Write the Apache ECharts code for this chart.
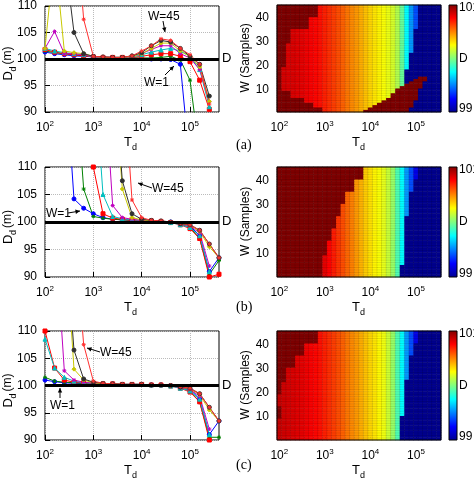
<!DOCTYPE html>
<html><head><meta charset="utf-8">
<script src="https://cdn.jsdelivr.net/npm/echarts@6/dist/echarts.min.js"></script>
<style>html,body{margin:0;padding:0;background:#fff}#c{width:474px;height:482px}</style>
</head><body><div id="c"></div>
<script>
// ---- data ----
const Tpoints = [100,158,251,398,631,1000,1585,2512,3981,6310,10000,15849,25119,39811,63096,100000,158489,251189,398107];
const Wlabels = ['W=1','W=7','W=13','W=19','W=25','W=31','W=38','W=45'];
const aW1 = [101.3,101.0,100.8,100.6,100.5,100.4,100.3,100.3,100.2,100.2,100.1,100.0,100.0,99.9,99.0,80,null,null,null];
const aW7 = [101.5,101.2,101.0,100.8,100.6,100.4,100.3,100.3,100.3,100.2,100.2,100.2,100.3,100.5,99.8,96.0,82,null,null];
const aW13= [101.8,101.3,101.0,100.8,100.6,100.4,100.3,100.3,100.3,100.3,100.5,100.8,101.0,101.0,100.5,99.5,96.0,90.5,null];
const aW19= [102.0,101.5,101.2,101.0,100.8,100.4,100.3,100.3,100.3,100.4,100.8,101.3,101.7,102.0,101.5,100.5,98.0,91.0,null];
const aW25= [102.0,105.2,101.0,101.0,100.8,100.4,100.3,100.3,100.3,100.5,101.0,101.8,102.5,102.5,101.0,100.2,98.0,92.0,null];
const aW31= [102.0,120,101.5,101.2,101.0,100.5,100.3,100.3,100.3,100.5,101.0,102.0,103.0,103.0,101.5,100.5,98.5,92.0,null];
const aW38= [120,120,120,105.0,101.0,100.5,100.4,100.3,100.3,100.6,101.2,102.5,103.5,103.2,102.0,100.5,99.0,93.0,null];
const aW45= [130,130,130,130,107.5,100.5,100.4,100.3,100.3,100.6,101.5,102.5,103.8,103.5,102.0,100.8,99.0,91.5,null];
const bW1 = [130,130,130,104.2,102.5,101.5,100.8,100.5,100.4,100.3,100.2,100.2,100.1,100.0,99.7,99.3,97.5,91.0,93.5];
const bW7 = [130,130,130,130,106.0,101.0,100.7,100.5,100.4,100.3,100.2,100.2,100.1,100.0,99.6,99.0,97.0,90.5,93.0];
const bW13= [130,130,130,130,130,110,101.5,100.7,100.5,100.3,100.3,100.2,100.1,99.9,99.5,98.8,97.0,90.0,90.5];
const bW19= [130,130,130,130,130,130,105.0,101.0,100.6,100.4,100.3,100.2,100.1,99.9,99.5,99.0,97.5,91.0,null];
const bW25= [130,130,130,130,130,130,130,103.0,100.8,100.5,100.3,100.2,100.1,100.0,99.6,99.3,98.0,92.0,null];
const bW31= [130,130,130,130,130,130,130,130,106.0,100.8,100.4,100.2,100.1,100.0,99.7,99.4,98.3,95.5,93.5];
const bW38= [130,130,130,130,130,130,130,130,107.5,101.5,100.5,100.3,100.2,100.0,99.7,99.5,98.5,96.0,93.5];
const bW45= [130,130,130,130,130,130,130,130,130,104.0,100.8,100.3,100.2,100.0,99.8,99.5,98.5,96.0,93.5];
const cW1 = [101.0,100.7,100.5,100.4,100.4,100.3,100.3,100.3,100.2,100.2,100.2,100.1,100.1,100.0,99.6,99.3,97.5,91.0,93.5];
const cW7 = [101.5,100.8,100.6,100.5,100.4,100.3,100.3,100.3,100.2,100.2,100.2,100.1,100.1,100.0,99.6,99.0,97.0,90.5,90.5];
const cW13= [110,103.2,101.0,100.6,100.5,100.4,100.3,100.3,100.2,100.2,100.2,100.1,100.1,99.9,99.5,98.8,97.0,90.0,null];
const cW19= [108.5,103.2,101.5,100.8,100.5,100.4,100.3,100.3,100.2,100.2,100.2,100.1,100.1,99.9,99.5,99.0,97.5,91.0,null];
const cW25= [130,130,102.7,101.0,100.6,100.4,100.3,100.3,100.2,100.2,100.2,100.1,100.1,100.0,99.6,99.3,98.0,92.0,null];
const cW31= [130,130,130,103.0,101.0,100.5,100.3,100.3,100.2,100.2,100.2,100.1,100.1,100.0,99.7,99.4,98.3,95.5,93.5];
const cW38= [130,130,130,106.5,101.2,100.6,100.4,100.3,100.2,100.2,100.2,100.1,100.1,100.0,99.7,99.5,98.5,96.0,93.5];
const cW45= [130,130,130,130,107.5,100.8,100.4,100.3,100.2,100.2,100.2,100.1,100.1,100.0,99.8,99.5,98.5,96.0,93.5];

// heatmap: columns at log10 T = 2 + 0.1k, rows W = 1..45
const heatCols = [100,126,158,200,251,316,398,501,631,794,1000,1259,1585,1995,2512,3162,3981,5012,6310,7943,10000,12589,15849,19953,25119,31623,39811,50119,63096,79433,100000,125893,158489,199526,251189,316228];
const heatRows = [1,2,3,4,5,6,7,8,9,10,11,12,13,14,15,16,17,18,19,20,21,22,23,24,25,26,27,28,29,30,31,32,33,34,35,36,37,38,39,40,41,42,43,44,45];
const midA = [100.84,100.83,100.82,100.82,100.81,100.8,100.78,100.76,100.74,100.72,100.69,100.66,100.63,100.6,100.56,100.52,100.48,100.45,100.41,100.37,100.33,100.3,100.27,100.24,100.21,100.17,100.1,99.95,99.75,99.55,99.4,99.2,99.1,99,99,99];
const midB = [100.84,100.84,100.84,100.84,100.84,100.84,100.84,100.84,100.84,100.84,100.8,100.75,100.7,100.65,100.6,100.55,100.5,100.45,100.4,100.35,100.31,100.27,100.24,100.2,100.14,100.05,99.9,99.75,99.55,99.4,99.2,99.1,99,99,99,99];
const midC = [100.86,100.84,100.83,100.82,100.81,100.8,100.78,100.76,100.74,100.72,100.69,100.66,100.63,100.6,100.56,100.52,100.48,100.45,100.41,100.37,100.33,100.3,100.26,100.22,100.15,100.05,99.9,99.75,99.55,99.4,99.2,99.1,99,99,99,99];
const darkA = [10,10,8,8,6,6,3,3,3, 1,1,1,1,1,1,1,1,1,1, 2,2,2,2,2,2,2,2,2,2, 3,3,3,3,3,3, 7,7,7,7,7, 9,9,9,9,9];
const blueA = [29,29,30,30,30,31,31,31,31,31, 28,28,28,28,28, 28,28,28, 29,29,29,29,29,29,29, 30,30,30,30,30,30,30,30,30,30, 31,31,31,31,31,31,31,31,31,31];
const wedgeStartA = [19,20,21,22,23,24,25,25,26,26,27,28,29,30,31];
const wedgeEndA   = [29,29,30,30,30,31,31,31,31,31,32,32,32,33,33];
const darkB = [10,10,10,10,10,10,10,10,10, 11,11,11,11,11,11, 12,12,12,12,12, 13,13,13,13,13, 14,14,14,14,14, 15,15,15,15,15, 17,17,17,17,17, 19,19,19,19,19];
const blueB = [27,27,27,27,27, 28,28,28,28,28,28,28,28,28,28, 28,28,28,28,28,28,28,28,28,28, 29,29,29,29,29,29,29,29,29,29, 30,30,30,30,30, 31,31,31,31,31];
const darkC = [0,0,0,0,0,0,0,0,0, 1,1,1,1,1, 0,0,0,0,0, 1,1,1,1,1, 2,2,2,2,2,2, 4,4,4,4,4, 6,6,6,6,6, 9,9,9,9,9];
const blueC = [27,27,27,27,27,27,27,27,27,27, 28,28,28,28,28,28,28,28,28,28,28,28,28,28,28, 29,29,29,29,29,29,29,29,29,29, 30,30,30,30,30, 31,31,31,31,31];
const xTicks = [100,1000,10000,100000];
const wTicks = [10,20,30,40];

// ---- build ----
const colors = ['#0000ff','#008000','#ff0000','#00bfbf','#bf00bf','#c8c800','#303030','#ff3030'];
const asterisk = 'path://M5,0L5,10M0,5L10,5M1.5,1.5L8.5,8.5M8.5,1.5L1.5,8.5';
const symbols = ['circle',asterisk,'rect','triangle',asterisk,'diamond','circle',asterisk];
const jet = ['#00008f','#0000ff','#0080ff','#00ffff','#80ff80','#ffff00','#ff8000','#ff0000','#800000'];
const font = 'Liberation Sans, Arial, sans-serif';
const lineRows = [[aW1,aW7,aW13,aW19,aW25,aW31,aW38,aW45],[bW1,bW7,bW13,bW19,bW25,bW31,bW38,bW45],[cW1,cW7,cW13,cW19,cW25,cW31,cW38,cW45]];
const tops = [5,167,331], heights=[107,110,109];
const supFmt = v => '10{s|' + Math.round(Math.log10(v)) + '}';
const lbl = {color:'#000',fontSize:12,fontFamily:font,formatter:supFmt,rich:{s:{fontSize:8,verticalAlign:'top',padding:[0,0,8,0],fontFamily:font}}};
const grid=[],xAxis=[],yAxis=[],series=[],visualMap=[],graphic=[];
function cellsFor(p){
  const mid=[midA,midB,midC][p], dark=[darkA,darkB,darkC][p], blue=[blueA,blueB,blueC][p];
  const out=[];
  heatRows.forEach((w,wi)=>{heatCols.forEach((t,k)=>{
    let v=mid[k];
    if(k<dark[wi]) v=101.3;
    if(k>=blue[wi]) v=99;
    if(p===0 && wi<wedgeStartA.length && k>=wedgeStartA[wi] && k<wedgeEndA[wi]) v=101.3;
    out.push([k,wi,v]);
  });});
  return out;
}
for(let p=0;p<3;p++){
  const gL=grid.length;
  grid.push({left:45,top:tops[p],width:174,height:heights[p],show:true,borderColor:'#000',borderWidth:1});
  const xl=xAxis.length, yl=yAxis.length;
  xAxis.push({type:'log',gridIndex:gL,position:'bottom',min:100,max:398107,logBase:10,axisLine:{show:false},axisTick:{show:true,inside:true,customValues:xTicks,lineStyle:{color:'#000'}},
    axisLabel:Object.assign({customValues:xTicks},lbl),splitLine:{show:true,lineStyle:{type:'dotted',color:'#bbb'}},minorTick:{show:false}});
  yAxis.push({type:'value',gridIndex:gL,position:'left',min:90,max:110,interval:5,axisLine:{show:false},axisTick:{inside:true,lineStyle:{color:'#000'}},
    axisLabel:{color:'#000',fontSize:12,fontFamily:font},splitLine:{show:true,lineStyle:{type:'dotted',color:'#bbb'}}});
  lineRows[p].forEach((arr,i)=>{
    series.push({type:'line',xAxisIndex:xl,yAxisIndex:yl,clip:true,name:Wlabels[i],
      data:arr.map((v,j)=>[Tpoints[j],v]),symbol:symbols[i],symbolSize:4,
      lineStyle:{width:1,color:colors[i]},itemStyle:{color:colors[i],borderColor:colors[i]},z:3,
      markLine:i===0?{silent:true,symbol:'none',label:{show:false},lineStyle:{color:'#000',width:3,type:'solid'},data:[{yAxis:100}],z:10}:undefined});
  });
  const gH=grid.length;
  grid.push({left:277,top:tops[p],width:164,height:heights[p],show:true,borderColor:'#000',borderWidth:1,z:5});
  const xc=xAxis.length;
  xAxis.push({type:'category',gridIndex:gH,position:'top',data:heatCols,show:false});
  xAxis.push({type:'log',gridIndex:gH,position:'bottom',min:89.125,max:354813,axisLine:{show:false},axisTick:{show:true,inside:true,customValues:xTicks,lineStyle:{color:'#000'}},
    axisLabel:Object.assign({customValues:xTicks},lbl),splitLine:{show:false}});
  const yc=yAxis.length;
  yAxis.push({type:'category',gridIndex:gH,position:'right',data:heatRows,show:false});
  yAxis.push({type:'value',gridIndex:gH,position:'left',min:0.5,max:45.5,axisLine:{show:false},axisTick:{inside:true,customValues:wTicks,lineStyle:{color:'#000'}},
    axisLabel:{customValues:wTicks,color:'#000',fontSize:12,fontFamily:font},splitLine:{show:false}});
  const si=series.length;
  series.push({type:'heatmap',xAxisIndex:xc,yAxisIndex:yc,data:cellsFor(p),itemStyle:{borderColor:'rgba(0,0,0,0.18)',borderWidth:0.5}});
  visualMap.push({type:'continuous',show:false,min:99,max:101,seriesIndex:si,dimension:2,inRange:{color:jet}});
  graphic.push({type:'rect',shape:{x:449,y:tops[p],width:8,height:heights[p]},
    style:{fill:new echarts.graphic.LinearGradient(0,1,0,0,jet.map((c,i)=>({offset:i/(jet.length-1),color:c}))),stroke:'#000',lineWidth:1}});
  graphic.push({type:'text',x:459,y:tops[p]-3,style:{text:'101',font:'12px '+font,fill:'#000'}});
  graphic.push({type:'text',x:459,y:tops[p]+heights[p]-9,style:{text:'99',font:'12px '+font,fill:'#000'}});
  graphic.push({type:'text',x:459,y:tops[p]+heights[p]/2-6,style:{text:'D',font:'12px '+font,fill:'#000'}});
  graphic.push({type:'text',x:222,y:tops[p]+heights[p]/2-7,style:{text:'D',font:'13px '+font,fill:'#000'}});
  const bot=tops[p]+heights[p];
  graphic.push({type:'text',x:124,y:bot+24,style:{text:'T',font:'13px '+font,fill:'#000'}});
  graphic.push({type:'text',x:132,y:bot+31,style:{text:'d',font:'9px '+font,fill:'#000'}});
  graphic.push({type:'text',x:352,y:bot+24,style:{text:'T',font:'13px '+font,fill:'#000'}});
  graphic.push({type:'text',x:360,y:bot+31,style:{text:'d',font:'9px '+font,fill:'#000'}});
  graphic.push({type:'text',x:2,y:tops[p]+heights[p]/2+22,rotation:Math.PI/2,style:{text:'D',font:'13px '+font,fill:'#000'}});
  graphic.push({type:'text',x:9,y:tops[p]+heights[p]/2+13,rotation:Math.PI/2,style:{text:'d',font:'9px '+font,fill:'#000'}});
  graphic.push({type:'text',x:2,y:tops[p]+heights[p]/2+6,rotation:Math.PI/2,style:{text:'(m)',font:'12px '+font,fill:'#000'}});
  graphic.push({type:'text',x:240,y:tops[p]+heights[p]/2+34,rotation:Math.PI/2,style:{text:'W (Samples)',font:'12px '+font,fill:'#000'}});
  graphic.push({type:'text',x:236,y:[138,300,458][p],style:{text:['(a)','(b)','(c)'][p],font:'14px Liberation Serif, serif',fill:'#000'}});
}
function arrow(x1,y1,x2,y2){
  const a=Math.atan2(y2-y1,x2-x1), L=5, h=0.45;
  graphic.push({type:'line',shape:{x1,y1,x2,y2},style:{stroke:'#000',lineWidth:1},z:20});
  graphic.push({type:'polygon',shape:{points:[[x2,y2],[x2-L*Math.cos(a-h),y2-L*Math.sin(a-h)],[x2-L*Math.cos(a+h),y2-L*Math.sin(a+h)]]},style:{fill:'#000'},z:20});
}
function note(t,x,y){graphic.push({type:'text',x,y,z:20,style:{text:t,font:'12px '+font,fill:'#000'}});}
note('W=45',148,11); arrow(163,21,165,32);
note('W=1',144,77); arrow(165,75,174,66);
note('W=45',152,183); arrow(152,188,138,183);
note('W=1',46,208); arrow(68,213,80,211);
note('W=45',100,347); arrow(100,352,87,348);
note('W=1',50,400); arrow(60,398,60,388);

const chart=echarts.init(document.getElementById('c'),null,{renderer:'canvas'});
chart.setOption({animation:false,grid,xAxis,yAxis,series,visualMap,graphic});
</script></body></html>
